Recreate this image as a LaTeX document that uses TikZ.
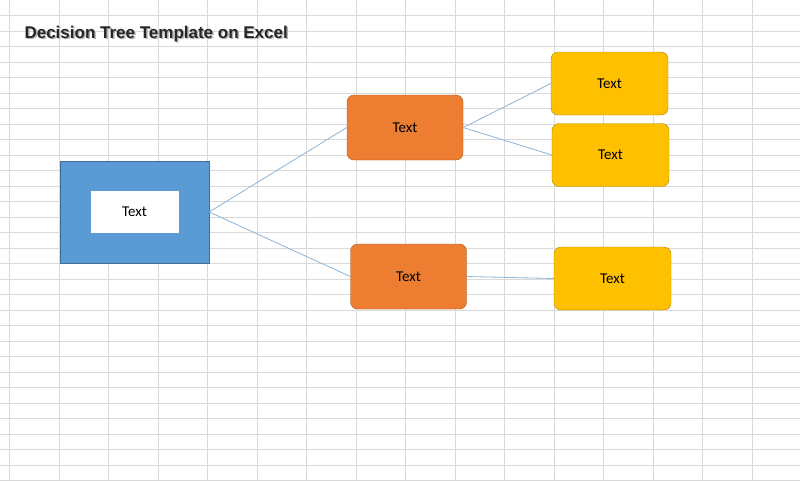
\documentclass[tikz,border=0pt]{standalone}
\usepackage{fontspec}
\setmainfont{Carlito}
\newfontfamily\titlefont{Liberation Sans}
\usetikzlibrary{positioning}
\definecolor{xl-blue}{HTML}{5B9BD5}
\definecolor{xl-orange}{HTML}{ED7D31}
\definecolor{xl-gold}{HTML}{FFC000}
\definecolor{xl-line}{HTML}{8DB4D9}
\definecolor{xl-grid}{HTML}{D9D9D9}
\tikzset{
  rootbox/.style={draw=xl-blue!70!black, fill=xl-blue, minimum width=149pt, minimum height=102pt},
  rootlabel/.style={fill=white, minimum width=88pt, minimum height=42pt, font=\fontsize{15}{18}\selectfont},
  midbox/.style={draw=xl-orange!70!black, fill=xl-orange, rounded corners=7pt, minimum width=116pt, minimum height=65pt, font=\fontsize{15}{18}\selectfont},
  leafbox/.style={draw=xl-gold!70!black, fill=xl-gold, rounded corners=7pt, minimum width=117pt, minimum height=63pt, font=\fontsize{15}{18}\selectfont},
  link/.style={xl-line, line width=0.8pt},
}
\begin{document}
\begin{tikzpicture}[x=1pt, y=-1pt]
  \useasboundingbox (0,0) rectangle (800,480);
  \fill[white] (0,0) rectangle (800,480);
  % spreadsheet grid
  \foreach \gx in {0,...,16} {
    \draw[xl-grid, line width=0.6pt] (9.5+\gx*49.5, 0) -- (9.5+\gx*49.5, 480);
  }
  \foreach \gy in {1,...,31} {
    \draw[xl-grid, line width=0.6pt] (0, \gy*15.5) -- (800, \gy*15.5);
  }
  % title
  \node[anchor=west, text=gray!60, font=\titlefont\bfseries\fontsize{17}{20}\selectfont] at (22.5,35.5) {Decision Tree Template on Excel};
  \node[anchor=west, text=black!85, font=\titlefont\bfseries\fontsize{17}{20}\selectfont] (title) at (21,34) {Decision Tree Template on Excel};

  \node[rootbox] (root) at (134.5,212) {};
  \node[rootlabel] (rootlbl) at (root) {Text};
  \node[midbox] (mid1) at (405,127.5) {Text};
  \node[midbox] (mid2) at (408.5,276.5) {Text};
  \node[leafbox] (leaf1) at (609.5,83.5) {Text};
  \node[leafbox] (leaf2) at (610.5,155) {Text};
  \node[leafbox] (leaf3) at (612.5,278.5) {Text};

  \draw[link] (root.east) -- (mid1.west);
  \draw[link] (root.east) -- (mid2.west);
  \draw[link] (mid1.east) -- (leaf1.west);
  \draw[link] (mid1.east) -- (leaf2.west);
  \draw[link] (mid2.east) -- (leaf3.west);
\end{tikzpicture}
\end{document}
